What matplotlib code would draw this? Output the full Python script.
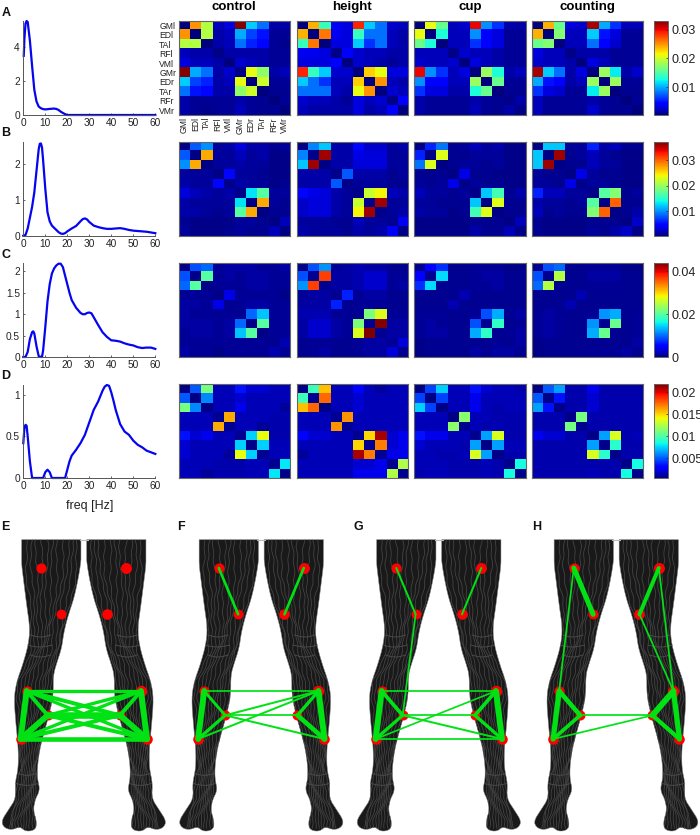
import numpy as np
import matplotlib
matplotlib.use('Agg')
import matplotlib.pyplot as plt

plt.rcParams['font.family'] = ['Liberation Sans', 'DejaVu Sans']

W, H = 700, 835

# --- spectra ---
freq_a = [0.2, 0.5, 1, 1.5, 2, 3, 4, 5, 6, 7, 8, 9, 10, 12, 14, 15, 16, 17, 18, 19, 20, 30, 40, 50, 60]
power_a = [3.5, 4.5, 5.4, 5.56, 5.5, 4.4, 2.9, 1.5, 0.8, 0.5, 0.4, 0.35, 0.33, 0.36, 0.38, 0.36, 0.3, 0.2, 0.12, 0.05, 0, 0, 0, 0, 0]
freq_b = [0, 1, 2, 3, 4, 5, 6, 7, 7.5, 8, 8.5, 9, 10, 11, 12, 13, 14, 15, 16, 17, 18, 19, 20, 22, 24, 26, 27, 28, 29, 30, 32, 34, 36, 38, 40, 42, 44, 46, 48, 50, 52, 54, 56, 58, 60]
power_b = [0, 0.02, 0.2, 0.5, 0.8, 1.2, 1.8, 2.4, 2.55, 2.56, 2.45, 2.1, 1.3, 0.65, 0.4, 0.28, 0.22, 0.16, 0.1, 0.06, 0.05, 0.07, 0.12, 0.2, 0.27, 0.4, 0.46, 0.48, 0.45, 0.38, 0.28, 0.24, 0.21, 0.19, 0.19, 0.2, 0.21, 0.19, 0.16, 0.14, 0.13, 0.12, 0.11, 0.09, 0.07]
freq_c = [0, 1, 2, 3, 4, 4.5, 5, 6, 7, 8, 8.5, 9, 10, 11, 12, 13, 14, 15, 16, 17, 18, 19, 20, 21, 22, 24, 26, 27, 28, 29, 30, 31, 32, 34, 36, 38, 40, 42, 44, 46, 48, 50, 52, 54, 56, 58, 60]
power_c = [0, 0, 0.12, 0.42, 0.58, 0.6, 0.55, 0.25, 0.02, 0, 0, 0.15, 0.7, 1.3, 1.7, 1.95, 2.07, 2.14, 2.18, 2.18, 2.1, 1.9, 1.7, 1.5, 1.33, 1.15, 1.03, 1.0, 1.0, 1.03, 1.04, 1.02, 0.93, 0.75, 0.58, 0.47, 0.39, 0.38, 0.36, 0.32, 0.29, 0.27, 0.23, 0.21, 0.22, 0.22, 0.19]
freq_d = [0, 0.5, 1, 1.5, 2, 3, 4, 9, 10, 11, 12, 13, 18, 19, 20, 21, 22, 24, 26, 28, 30, 32, 34, 36, 37, 38, 39, 40, 41, 42, 44, 46, 48, 50, 52, 54, 56, 58, 60]
power_d = [0.42, 0.6, 0.64, 0.63, 0.5, 0.2, 0, 0, 0.07, 0.1, 0.07, 0, 0, 0, 0.1, 0.2, 0.27, 0.34, 0.42, 0.52, 0.67, 0.82, 0.92, 1.05, 1.1, 1.12, 1.11, 1.03, 0.93, 0.82, 0.65, 0.56, 0.52, 0.45, 0.4, 0.37, 0.33, 0.31, 0.29]

# --- coherence matrices, upper triangle, units of 1e-3 ---
muscles = ['GMl', 'EDl', 'TAl', 'RFl', 'VMl', 'GMr', 'EDr', 'TAr', 'RFr', 'VMr']
tasks = ['control', 'height', 'cup', 'counting']

a_control = [[.2, 25, 19, 2, 3, 33, 11, 8, 1.5, 1.5], [.2, 19, 1.5, 2, 10, 6.5, 5, 1, 1], [.2, 1.5, 2, 8, 5.5, 4.5, 1, .7],
             [.5, 1.5, 1.5, 1.5, 1.5, 1, 1], [.3, 2.5, 2, 1.5, 1, 1], [.5, 21, 17.5, 1.5, 2], [.2, 20, 1, 1], [.3, .8, .8], [.3, 1], [.3]]
a_height = [[.2, 24, 14, 3.5, 3, 29, 11, 8, 2.5, 2], [.2, 26, 3.5, 3, 14, 8, 8, 2, 1.5], [.2, 3, 3, 11, 6, 8, 2, 1.5],
            [.5, 4, 2.5, 2, 2, 1.5, 1.5], [.3, 2.5, 2, 1.5, 1, 1.5], [.3, 23, 21, 3, 3], [.2, 25, 2, 1.5], [.3, 2.5, 2], [.5, 4], [.3]]
a_cup = [[.2, 21, 16, 2, 2.5, 30, 9, 6, 1.5, 1.5], [.2, 13, 2, 2, 9, 4, 3, 1, 1], [.2, 2, 2, 6, 4, 3, 1, 1],
         [.5, 2.5, 2, 2, 1.5, 1, 1], [.3, 3, 2, 1.5, 1, 1], [.3, 18, 13, 1.5, 2], [.2, 16, 1, 1], [.3, .8, .8], [.5, 1.5], [.5]]
a_counting = [[.2, 24, 16, 3, 2.5, 32, 10, 6, 2, 2], [.2, 17, 2, 2, 11, 5, 3, 1, 1], [.2, 2, 2, 8, 4, 2.5, 1, 1],
              [.5, 1.5, 1.5, 1.5, 1, 1, 1], [.3, 3, 2, 1, 1, 1], [.3, 18, 12, 1.5, 2.5], [.2, 18, 1, 1], [.3, .8, .8], [.3, 1], [.3]]

b_control = [[.3, 8, 10, 1, 1.5, 3, 1.5, 1.5, .7, 1], [.3, 27, 1, 1, 2, 1, 1.5, .5, .5], [.3, 1, 1, 1.5, 1, 1, .5, .5],
             [.3, 5, 1, 1, .7, .5, .5], [.5, 1.5, 1, 1, .5, .7], [.5, 13, 17, 1, 1], [.3, 27, 1, .8], [.3, .7, .7], [.3, 2], [.3]]
b_height = [[.3, 9.5, 12, 1.5, 1.5, 5, 2.5, 2.5, 1, 1.5], [.4, 36, 1.5, 1.5, 3.5, 3, 3, 1, 1], [.3, 1.5, 1.5, 3, 3, 3, 1, 1],
            [.5, 8, 1.5, 1.5, 1.5, .7, 1], [.5, 1, 1, 1, .7, .7], [.5, 22, 24, 2, 1.5], [.5, 36, 1, 1], [.5, 1, 1.5], [.7, 4], [.5]]
b_cup = [[.3, 6, 9, .7, 1, 2, 1, 1.5, .5, .5], [.3, 23, .7, .7, 1, 1, 1, .5, .5], [.3, .7, 1, 1, .7, 1, .5, .5],
         [.3, 3.5, .7, .7, .5, .5, .5], [.5, 1, .7, .7, .5, .5], [.5, 12, 16, .7, 1.5], [.3, 23, .7, .7], [.3, .7, .7], [.3, 2], [.5]]
b_counting = [[.3, 12, 12, 1, 1, 6, 1.5, 2, .7, .7], [.3, 36, .7, 1, 2, 1, .7, .5, .5], [.3, .7, .7, 2, 1, 1, .5, .5],
              [.3, 3.5, 1, .7, .7, .5, .5], [.5, 1, 1, .7, .5, .5], [.5, 17, 19, .7, 1], [.3, 30, .7, .7], [.3, .7, 1.5], [.3, 2.5], [.5]]

c_control = [[.5, 9, 10, 1, 1.5, 1.5, 1.5, 1, 1, 1.5], [.5, 20, 1, 1.5, 1, 1.5, 1.5, 1, 1], [.5, 1, 1, 1, 1.5, 1.5, 1, 1],
             [.5, 4, 1, 1, 1, 1, .5], [.7, 1, 1.5, 1.5, 1, 1], [.7, 10, 14, 1, 1], [.5, 20, 1, 1], [.5, 1, 1], [.7, 2], [1]]
c_height = [[.5, 9, 12, 1, 1.5, 2, 1.5, 1.5, .7, .7], [.7, 37, 1.5, 1.5, 2, 3, 3, 1, 1], [.7, 1.5, 1.5, 2, 3, 3, 1, 1.5],
            [.7, 7, 1, 1.5, 1.5, .7, .7], [.7, 1, 1, 1, .7, .7], [.7, 22, 27, 1, 1], [.7, 44, 1.5, 1.5], [.7, 1.5, 1.5], [1, 3.5], [.7]]
c_cup = [[.7, 5, 7.5, .7, .7, 1, 1, 1, .5, .5], [.7, 15, .7, .7, 1, 1.5, 1.5, .7, .7], [.7, .7, .7, 1, 1, 1.5, .7, .7],
         [.7, 2, .7, .7, .7, .7, .7], [.7, .7, .7, .7, .7, .7], [1, 9, 13, .7, 1.5], [.7, 18, .7, 1], [.7, 1, 1.5], [.7, 1.5], [.7]]
c_counting = [[.7, 9, 10, .7, .7, 1, 1, 1, .5, .5], [.7, 25, .7, .7, 1.5, 1.5, 1.5, .7, .7], [.7, .7, .7, 1, 1, 1, .7, .7],
              [.7, 2, .7, .7, .7, .7, .7], [.7, .7, .7, .7, .7, .7], [1, 12, 13, .7, 1], [.7, 21, .7, 1], [.7, .7, 1], [.7, 1.5], [.7]]

d_control = [[.6, 5, 11, 1.5, 1.5, 3.5, 2, 2, 1.5, 1.5], [.6, 6, 1.5, 1.5, 2, 1.5, 1.5, 1.5, 1.5], [.6, 1.5, 1.5, 2.5, 1.5, 1.5, 1.5, 1],
             [.8, 16, 1.5, 1.5, 1.5, 1.3, 1.3], [.8, 1.5, 1.5, 1, 1.3, 1.3], [.8, 7.5, 14, 1.3, 1.3], [.7, 7.5, 1.5, 1.5], [.8, 1.5, 1.5], [.8, 8], [.7]]
d_height = [[.6, 9.5, 15.5, 1.5, 1.5, 3, 1.5, 1, 1.5, 1.5], [.8, 17.5, 1.5, 1.5, 2, 1.5, 1.5, 1.5, 1.5], [.6, 1.5, 1.5, 2, 1.5, 1.5, 1.5, 1.5],
            [.8, 16.5, 1.5, 1.5, 1.5, 1.5, 1.5], [.8, 1.5, 1.5, 1.5, 1.5, 1.5], [.8, 15, 21, 2, 2.5], [.8, 17, 2, 2.5], [.8, 2.5, 2.5], [.8, 12.5], [.8]]
d_cup = [[.6, 4.5, 7.5, 1.5, 1.5, 3.5, 2, 1.5, 1.5, 1.3], [.6, 4.5, 1.5, 1.5, 2.5, 1.5, 1.5, 1.5, 1.5], [.6, 1.5, 1.5, 2.5, 1.5, 1.3, 1.5, 1.5],
         [.6, 11.5, 1.5, 1.5, 1.3, 1.3, 1.3], [.8, 1.5, 1.3, 1.5, 1.3, 1.3], [.8, 6.5, 13.5, 1.3, 1.3], [.6, 6.5, 1.5, 1.5], [.7, 1.3, 1.3], [.7, 8.5], [.7]]
d_counting = [[.6, 5, 6.5, 1.3, 1.3, 2.5, 1.3, 1.3, 1.3, 1.3], [.7, 3.5, 1.3, 1.3, 2, 1.3, 1.3, 1.3, 1.3], [.7, 1.3, 1.3, 2, 1.3, 1.3, 1.3, 1.3],
              [.7, 11, 1.3, 1.3, 1.3, 1.3, 1.3], [.8, 1.3, 1.3, 1.3, 1.3, 1.3], [.7, 6.5, 13.5, 1.3, 1.5], [.7, 9, 1.3, 1.3], [.7, 1.3, 1.3], [.7, 8.5], [.7]]

# --- networks: pairs of electrodes and line weight ---
edges_e = [('p', 'q', 3), ('p', 'r', 4.5), ('q', 'r', 4.5), ('P', 'Q', 3), ('P', 'R', 4.5), ('Q', 'R', 4.5), ('p', 'P', 2.5),
           ('q', 'Q', 5), ('r', 'R', 3.5), ('p', 'Q', 3), ('p', 'R', 2.5), ('P', 'q', 2.5), ('P', 'r', 2.5), ('q', 'R', 3), ('Q', 'r', 3)]
edges_f = [('a', 'b', 2), ('A', 'B', 2), ('p', 'P', 1.3), ('q', 'Q', 1.3), ('P', 'q', 1.5), ('P', 'r', 1.5), ('q', 'R', 1.5),
           ('p', 'q', 2.2), ('p', 'r', 4.5), ('q', 'r', 2.5), ('P', 'Q', 2.5), ('P', 'R', 4.5), ('Q', 'R', 3.5)]
edges_g = [('a', 'b', 1.5), ('b', 'q', 1.3), ('A', 'B', 1.5), ('p', 'P', 1.3), ('q', 'Q', 1.3), ('r', 'R', 1.3), ('P', 'r', 1.3), ('q', 'R', 1.5),
           ('p', 'q', 2.8), ('p', 'r', 4.5), ('q', 'r', 2.5), ('P', 'Q', 2.8), ('P', 'R', 4.5), ('Q', 'R', 2.5)]
edges_h = [('a', 'b', 3.8), ('A', 'B', 3), ('a', 'p', 1.3), ('A', 'P', 1.3), ('B', 'P', 1.3), ('q', 'Q', 1.3), ('r', 'Q', 1.3),
           ('p', 'q', 3.5), ('p', 'r', 4), ('q', 'r', 2.8), ('P', 'Q', 4.5), ('P', 'R', 4), ('Q', 'R', 3.2)]

# electrode places on the legs, relative to the middle of the legs, right side mirrored
electrodes = {'a': (-127.5, 99), 'b': (-69.5, 238), 'p': (-171.5, 468), 'q': (-108.5, 541), 'r': (-189.5, 612)}
electrode_size = {'a': 54, 'b': 50, 'p': 54, 'q': 52, 'r': 58, 'A': 62, 'B': 58, 'P': 66, 'Q': 52, 'R': 58}


def px_axes(fig, x0, y0, x1, y1):
    return fig.add_axes([x0 / W, 1 - y1 / H, (x1 - x0) / W, (y1 - y0) / H])


def sym(rows):
    m = np.zeros((10, 10))
    for i, row in enumerate(rows):
        m[i, i:] = row
        m[i:, i] = row
    return m * 1e-3


fig = plt.figure(figsize=(W / 100, H / 100), dpi=100)
GREY = '#555555'

# line panels
line_panels = [
    (freq_a, power_a, 21, 115, 5.56, [0, 2, 4], ['0', '2', '4']),
    (freq_b, power_b, 142, 235.7, 2.6, [0, 1, 2], ['0', '1', '2']),
    (freq_c, power_c, 263.3, 357, 2.19, [0, 0.5, 1, 1.5, 2], ['0', '0.5', '1', '1.5', '2']),
    (freq_d, power_d, 385, 478, 1.12, [0, 0.5, 1], ['0', '0.5', '1']),
]
for k, (fr, pw, top, bottom, ymax, yt, ytl) in enumerate(line_panels):
    ax = px_axes(fig, 23.3, top, 155.3, bottom)
    ax.plot(fr, pw, color='#0505f0', lw=1.6, clip_on=False, solid_joinstyle='round')
    ax.set_xlim(0, 60)
    ax.set_ylim(0, ymax)
    ax.set_xticks(range(0, 61, 10))
    ax.set_yticks(yt)
    ax.set_yticklabels(ytl)
    ax.tick_params(direction='in', length=1.5, width=0.5, labelsize=7.3, pad=2.5, colors='#222222')
    for s in ['top', 'right']:
        ax.spines[s].set_visible(False)
    for s in ['left', 'bottom']:
        ax.spines[s].set_color(GREY)
        ax.spines[s].set_linewidth(0.7)
    if k == 3:
        ax.set_xlabel('freq [Hz]', fontsize=9, labelpad=6, color='#222222')

# matrices
heat_x = [(178.7, 290), (296.7, 408), (414.3, 525.7), (532.3, 643.3)]
heat_y = [(20.7, 115), (142, 236.3), (263, 357.3), (384.3, 478.3)]
heat_rows = [
    ([a_control, a_height, a_cup, a_counting], 0.00024, 0.0332, [0.01, 0.02, 0.03], ['0.01', '0.02', '0.03']),
    ([b_control, b_height, b_cup, b_counting], 0.0001, 0.0371, [0.01, 0.02, 0.03], ['0.01', '0.02', '0.03']),
    ([c_control, c_height, c_cup, c_counting], 0.0, 0.0439, [0, 0.02, 0.04], ['0', '0.02', '0.04']),
    ([d_control, d_height, d_cup, d_counting], 0.00045, 0.0218, [0.005, 0.01, 0.015, 0.02], ['0.005', '0.01', '0.015', '0.02']),
]
for r, (mats, vmin, vmax, cticks, cticklabels) in enumerate(heat_rows):
    y0, y1 = heat_y[r]
    for c, rows in enumerate(mats):
        ax = px_axes(fig, heat_x[c][0], y0, heat_x[c][1], y1)
        im = ax.imshow(sym(rows), cmap='jet', vmin=vmin, vmax=vmax, aspect='auto', interpolation='nearest')
        ax.set_xticks([])
        ax.set_yticks([])
        for s in ax.spines.values():
            s.set_color('#666666')
            s.set_linewidth(0.8)
        if r == 0 and c == 0:
            ax.set_xticks(range(10))
            ax.set_xticklabels(muscles, rotation=90, fontsize=6.2, color='#222222')
            ax.set_yticks(range(10))
            ax.set_yticklabels(muscles, fontsize=6.2, color='#222222', ha='left')
            ax.tick_params(axis='x', length=0, pad=1.5)
            ax.tick_params(axis='y', length=0, pad=14)
        if r == 0:
            ax.set_title(tasks[c], fontsize=9.5, fontweight='bold', pad=7.5)
    cax = px_axes(fig, 653.7, y0, 667.7, y1)
    cb = fig.colorbar(im, cax=cax)
    cb.set_ticks(cticks)
    cb.set_ticklabels(cticklabels)
    cax.tick_params(direction='in', length=1.5, width=0.5, labelsize=9, pad=3, colors='#222222')
    cb.outline.set_edgecolor('#666666')
    cb.outline.set_linewidth(0.7)

# legs, drawn in pixel coordinates
legs = fig.add_axes([0, 0, 1, 1], zorder=-1)
legs.set_xlim(0, W)
legs.set_ylim(H, 0)
legs.axis('off')

# top corners listed several times so that the rounding leaves them square
outline_x = np.array([65, 65, 65, 65, 243, 243, 243, 243, 243, 235, 222, 205, 192, 185, 170, 160, 160, 150, 130, 118, 112, 113, 120, 105, 100, 110, 108, 95, 75, 60, 35, 12, 4, 25, 48, 45, 55, 55, 48, 42, 50, 68, 85, 90, 80, 70, 65], dtype=float) - 251.5
outline_y = np.array([60, 14, 14, 14, 14, 14, 14, 60, 80, 130, 190, 240, 290, 340, 385, 420, 480, 530, 600, 650, 700, 735, 765, 795, 825, 860, 880, 888, 888, 875, 885, 878, 858, 825, 790, 745, 700, 640, 570, 490, 440, 390, 330, 280, 210, 130, 90], dtype=float)
strand_y = np.array([14, 130, 210, 280, 340, 390, 440, 490, 570, 640, 700, 745, 790, 860], dtype=float)
strand_l = np.array([65, 70, 80, 90, 85, 68, 50, 42, 48, 55, 55, 48, 48, 20], dtype=float) - 251.5
strand_r = np.array([243, 235, 212, 192, 185, 170, 160, 158, 142, 122, 112, 116, 108, 108], dtype=float) - 251.5
strand_t = [0.07, 0.16, 0.25, 0.34, 0.43, 0.52, 0.61, 0.7, 0.79, 0.88, 0.95]


def rounded(x, y, rounds=2):
    # corner cutting, only for the drawn leg shape
    for _ in range(rounds):
        x2, y2 = np.roll(x, -1), np.roll(y, -1)
        x = np.column_stack([0.75 * x + 0.25 * x2, 0.25 * x + 0.75 * x2]).ravel()
        y = np.column_stack([0.75 * y + 0.25 * y2, 0.25 * y + 0.75 * y2]).ravel()
    return x, y


def draw_legs(ax, mid):
    yy = np.linspace(14, 880, 220)
    lx, ly = rounded(outline_x, outline_y)
    for sign in [1, -1]:
        patch = ax.fill(mid + sign * lx / 3, 535 + ly / 3, color='#191919', ec='#8a8a8a', lw=0.35, zorder=1)[0]
        for n, t in enumerate(strand_t):
            ll = np.interp(yy, strand_y, strand_l)
            rr = np.interp(yy, strand_y, strand_r)
            wiggle = 3.5 * np.sin(yy / (26 + 3 * n) + n * 1.7) + 2 * np.sin(yy / 9 + n)
            line, = ax.plot(mid + sign * (ll + t * (rr - ll) + wiggle) / 3, 535 + yy / 3,
                            color='#434343', lw=0.6, zorder=2)
            line.set_clip_path(patch)
        # knee and ankle bands
        for yb, a, b in [(300, -160, -100), (330, -170, -95), (360, -160, -100), (715, -200, -140), (745, -205, -135)]:
            xb = np.linspace(a, b, 12)
            band, = ax.plot(mid + sign * xb / 3, 535 + (yb + 6 * np.sin((xb - a) / (b - a) * np.pi)) / 3,
                            color='#4a4a4a', lw=0.7, zorder=2)
            band.set_clip_path(patch)
    ax.plot([mid - 4, mid + 4], [539.7, 539.7], color='#bbbbbb', lw=0.8, zorder=1)


def node_xy(name, mid):
    x, y = electrodes[name.lower()]
    if name.isupper():
        x = -x
    return mid + x / 3, 535 + y / 3


leg_panels = [('E', 83.8, 5, edges_e), ('F', 261.3, 181, edges_f), ('G', 438.8, 358, edges_g), ('H', 616.3, 537, edges_h)]
for letter, mid, lx, edges in leg_panels:
    draw_legs(legs, mid)
    for name, size in electrode_size.items():
        x, y = node_xy(name, mid)
        legs.scatter([x], [y], s=size, color='#ff0000', lw=0, zorder=3)
    for n1, n2, w in edges:
        x1, y1 = node_xy(n1, mid)
        x2, y2 = node_xy(n2, mid)
        legs.plot([x1, x2], [y1, y2], color='#00e214', lw=w * 0.95, zorder=4, solid_capstyle='round')
    legs.text(lx, 527, letter, fontsize=9, fontweight='bold', ha='center', va='center', color='#111111')

for letter, y in zip('ABCD', [13, 133, 255, 376]):
    legs.text(6, y, letter, fontsize=9, fontweight='bold', ha='center', va='center', color='#111111')

plt.savefig('out.png', dpi=100)
